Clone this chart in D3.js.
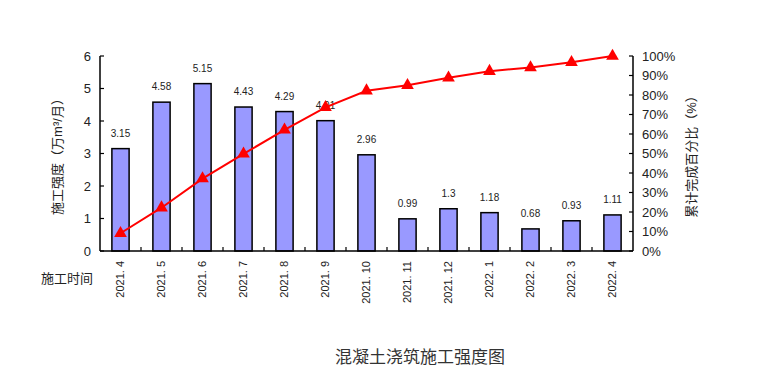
<!DOCTYPE html>
<html>
<head>
<meta charset="utf-8">
<script src="https://cdn.jsdelivr.net/npm/d3@7"></script>
<style>
  body { margin: 0; background: #fff; }
  text { font-family: Arial, "Liberation Sans", "Noto Sans CJK SC", sans-serif; }
</style>
</head>
<body>
<svg class="chart"></svg>
<script>
var width = 760,
    height = 389;

// data
var months = ['2021. 4', '2021. 5', '2021. 6', '2021. 7', '2021. 8', '2021. 9', '2021. 10',
              '2021. 11', '2021. 12', '2022. 1', '2022. 2', '2022. 3', '2022. 4'];
var intensity = [3.15, 4.58, 5.15, 4.43, 4.29, 4.01, 2.96, 0.99, 1.3, 1.18, 0.68, 0.93, 1.11];
var cumPct = [9.1, 22.2, 37.1, 49.8, 62.1, 73.7, 82.2, 85.0, 88.8, 92.2, 94.1, 96.8, 100];
var leftTicks = [0, 1, 2, 3, 4, 5, 6];
var rightTicks = [0, 10, 20, 30, 40, 50, 60, 70, 80, 90, 100];

var plotL = 100, plotR = 633, plotT = 56, plotB = 251;

var chart = d3.select('.chart')
    .attr('width', width)
    .attr('height', height);

var x = d3.scaleBand().domain(months).range([plotL, plotR]).paddingInner(0.58).paddingOuter(0.29);
var y = d3.scaleLinear().domain([0, 6]).range([plotB, plotT]);
var y2 = d3.scaleLinear().domain([0, 100]).range([plotB, plotT]);

// bars
chart.selectAll('rect.bar')
    .data(intensity)
  .enter().append('rect')
    .attr('class', 'bar')
    .attr('x', function(d, i) { return x(months[i]); })
    .attr('y', function(d) { return y(d); })
    .attr('width', x.bandwidth())
    .attr('height', function(d) { return plotB - y(d); })
    .attr('fill', '#9999ff')
    .attr('stroke', '#000')
    .attr('stroke-width', 1.5);

// value labels
chart.selectAll('text.val')
    .data(intensity)
  .enter().append('text')
    .attr('class', 'val')
    .attr('x', function(d, i) { return x(months[i]) + x.bandwidth() / 2; })
    .attr('y', function(d) { return y(d) - 12; })
    .attr('text-anchor', 'middle')
    .attr('font-size', 10)
    .attr('fill', '#222')
    .text(function(d) { return d; });

// cumulative line
var cx = function(d, i) { return x(months[i]) + x.bandwidth() / 2; };
var line = d3.line()
    .x(cx)
    .y(function(d) { return y2(d); });

chart.append('path')
    .datum(cumPct)
    .attr('d', line)
    .attr('fill', 'none')
    .attr('stroke', '#ff0000')
    .attr('stroke-width', 2);

chart.selectAll('path.tri')
    .data(cumPct)
  .enter().append('path')
    .attr('class', 'tri')
    .attr('d', d3.symbol().type(d3.symbolTriangle).size(70))
    .attr('transform', function(d, i) { return 'translate(' + cx(d, i) + ',' + y2(d) + ')'; })
    .attr('fill', '#ff0000');

// axes lines
var axisColor = '#000';
chart.append('line')
    .attr('x1', plotL).attr('y1', plotT).attr('x2', plotL).attr('y2', plotB)
    .attr('stroke', axisColor).attr('stroke-width', 1.5);
chart.append('line')
    .attr('x1', plotR).attr('y1', plotT).attr('x2', plotR).attr('y2', plotB)
    .attr('stroke', axisColor).attr('stroke-width', 1.5);
chart.append('line')
    .attr('x1', plotL).attr('y1', plotB).attr('x2', plotR).attr('y2', plotB)
    .attr('stroke', axisColor).attr('stroke-width', 1.5);

// left ticks
leftTicks.forEach(function(t) {
  chart.append('line')
    .attr('x1', plotL).attr('x2', plotL + 4)
    .attr('y1', y(t)).attr('y2', y(t))
    .attr('stroke', axisColor).attr('stroke-width', 1.2);
  chart.append('text')
    .attr('x', plotL - 9)
    .attr('y', y(t))
    .attr('dy', '.35em')
    .attr('text-anchor', 'end')
    .attr('font-size', 13)
    .attr('fill', '#222')
    .text(t);
});

// right ticks
rightTicks.forEach(function(t) {
  chart.append('line')
    .attr('x1', plotR - 4).attr('x2', plotR)
    .attr('y1', y2(t)).attr('y2', y2(t))
    .attr('stroke', axisColor).attr('stroke-width', 1.2);
  chart.append('text')
    .attr('x', plotR + 9)
    .attr('y', y2(t))
    .attr('dy', '.35em')
    .attr('text-anchor', 'start')
    .attr('font-size', 13)
    .attr('fill', '#222')
    .text(t + '%');
});

// x ticks between categories
var step = x.step();
for (var i = 1; i < months.length; i++) {
  var tx = plotL + i * step;
  chart.append('line')
    .attr('x1', tx).attr('x2', tx)
    .attr('y1', plotB).attr('y2', plotB - 4)
    .attr('stroke', axisColor).attr('stroke-width', 1.2);
}

// x labels (rotated)
chart.selectAll('text.xlab')
    .data(months)
  .enter().append('text')
    .attr('class', 'xlab')
    .attr('transform', function(d) {
      return 'translate(' + (x(d) + x.bandwidth() / 2) + ',' + 261 + ') rotate(-90)';
    })
    .attr('dy', '.35em')
    .attr('text-anchor', 'end')
    .attr('font-size', 11)
    .attr('fill', '#222')
    .text(function(d) { return d; });

chart.append('text')
    .attr('x', 41)
    .attr('y', 283)
    .attr('font-size', 13)
    .attr('fill', '#222')
    .text('施工时间');

// axis titles
chart.append('text')
    .attr('transform', 'translate(57,' + ((plotT + plotB) / 2) + ') rotate(-90)')
    .attr('dy', '.35em')
    .attr('text-anchor', 'middle')
    .attr('font-size', 13)
    .attr('fill', '#222')
    .text('施工强度（万m³/月）');

chart.append('text')
    .attr('transform', 'translate(691,' + ((plotT + plotB) / 2) + ') rotate(-90)')
    .attr('dy', '.35em')
    .attr('text-anchor', 'middle')
    .attr('font-size', 13)
    .attr('fill', '#222')
    .text('累计完成百分比（%）');

// title
chart.append('text')
    .attr('x', 420)
    .attr('y', 363)
    .attr('text-anchor', 'middle')
    .attr('font-size', 17)
    .attr('font-family', '"Noto Serif CJK SC", "DejaVu Serif", serif')
    .attr('fill', '#333')
    .text('混凝土浇筑施工强度图');
</script>
</body>
</html>
